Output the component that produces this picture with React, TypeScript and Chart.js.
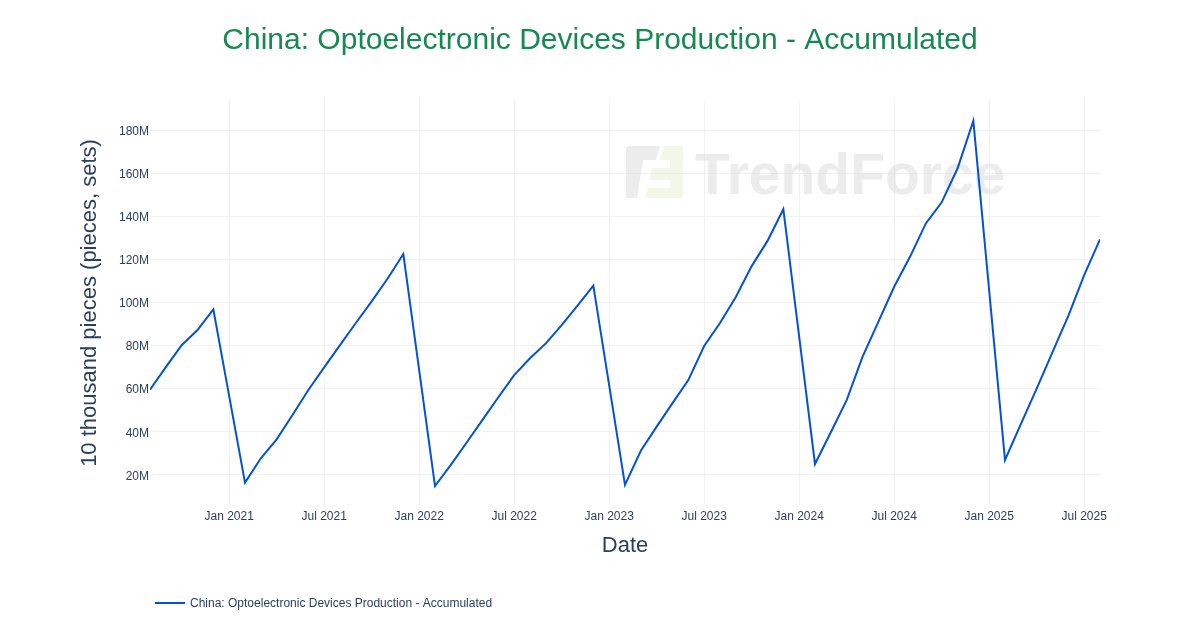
import React, { useEffect, useRef } from "react";
import { Chart, registerables } from "chart.js";

Chart.register(...registerables);

const TITLE = "China: Optoelectronic Devices Production - Accumulated";
const SERIES_NAME = "China: Optoelectronic Devices Production - Accumulated";
const Y_TITLE = "10 thousand pieces (pieces, sets)";
const X_TITLE = "Date";

const months: string[] = [
  "2020-08", "2020-09", "2020-10", "2020-11", "2020-12",
  "2021-02", "2021-03", "2021-04", "2021-05", "2021-06", "2021-07", "2021-08", "2021-09", "2021-10", "2021-11", "2021-12",
  "2022-02", "2022-03", "2022-04", "2022-05", "2022-06", "2022-07", "2022-08", "2022-09", "2022-10", "2022-11", "2022-12",
  "2023-02", "2023-03", "2023-04", "2023-05", "2023-06", "2023-07", "2023-08", "2023-09", "2023-10", "2023-11", "2023-12",
  "2024-02", "2024-03", "2024-04", "2024-05", "2024-06", "2024-07", "2024-08", "2024-09", "2024-10", "2024-11", "2024-12",
  "2025-02", "2025-03", "2025-04", "2025-05", "2025-06", "2025-07", "2025-08",
];

// values in millions
const values: number[] = [
  59.5, 70, 80.2, 87.2, 96.8,
  16.4, 27.7, 36.5, 47.8, 59.4, 69.9, 80.2, 90.5, 100.5, 111, 122.5,
  14.8, 24.6, 35, 45.5, 56, 66.3, 74.1, 81, 89.5, 98.5, 107.8,
  15.3, 31.2, 42.4, 53.3, 64, 79.8, 90.5, 102.6, 116.9, 128.6, 143.3,
  25, 39.8, 54.7, 74.8, 91, 107.3, 121.2, 136.7, 146.5, 162.2, 184.3,
  26.9, 43.5, 60, 77, 93.8, 112.7, 129.3,
];

const xTickLabels: string[] = [
  "Jan 2021", "Jul 2021", "Jan 2022", "Jul 2022", "Jan 2023", "Jul 2023",
  "Jan 2024", "Jul 2024", "Jan 2025", "Jul 2025",
];
const yTickValues: number[] = [20, 40, 60, 80, 100, 120, 140, 160, 180];

const BASE_YEAR = 2021;
const monthIndex = (s: string) => {
  const [y, m] = s.split("-").map(Number);
  return (y - BASE_YEAR) * 12 + (m - 1);
};
const labelIndex = (s: string) => {
  const [mon, yr] = s.split(" ");
  return (Number(yr) - BASE_YEAR) * 12 + (mon === "Jan" ? 0 : 6);
};

const FONT = "'Liberation Sans', Arial, sans-serif";
const TEXT_COLOR = "#2a3f5f";
const LINE_COLOR = "#0452d4";

const overlayPlugin = {
  id: "overlay",
  beforeDatasetsDraw(chart: any) {
    const ctx = chart.ctx as CanvasRenderingContext2D;
    ctx.save();
    // watermark logo
    ctx.globalAlpha = 0.5;
    ctx.fillStyle = "#d9d9d9";
    ctx.beginPath();
    ctx.moveTo(630, 146);
    ctx.lineTo(660, 146);
    ctx.lineTo(656, 160);
    ctx.lineTo(643, 160);
    ctx.lineTo(637, 198);
    ctx.lineTo(628, 198);
    ctx.quadraticCurveTo(625, 198, 626, 194);
    ctx.lineTo(626, 150);
    ctx.quadraticCurveTo(626, 146, 630, 146);
    ctx.fill();
    ctx.fillStyle = "#e6f0d0";
    ctx.beginPath();
    ctx.moveTo(664, 146);
    ctx.lineTo(680, 146);
    ctx.quadraticCurveTo(684, 146, 683, 150);
    ctx.lineTo(683, 194);
    ctx.quadraticCurveTo(683, 198, 679, 198);
    ctx.lineTo(645, 198);
    ctx.lineTo(648, 188);
    ctx.lineTo(670, 188);
    ctx.lineTo(670, 180);
    ctx.lineTo(650, 180);
    ctx.lineTo(652, 168);
    ctx.lineTo(670, 168);
    ctx.lineTo(670, 160);
    ctx.lineTo(660, 160);
    ctx.closePath();
    ctx.fill();
    ctx.fillStyle = "#d9d9d9";
    ctx.font = `bold 57px ${FONT}`;
    ctx.textAlign = "left";
    ctx.textBaseline = "alphabetic";
    ctx.fillText("TrendForce", 695, 194);
    ctx.restore();
  },
  afterDraw(chart: any) {
    const ctx = chart.ctx as CanvasRenderingContext2D;
    ctx.save();
    // title
    ctx.fillStyle = "#158a50";
    ctx.font = `30px ${FONT}`;
    ctx.textAlign = "center";
    ctx.textBaseline = "middle";
    ctx.fillText(TITLE, 600, 41);
    // x title
    ctx.fillStyle = TEXT_COLOR;
    ctx.font = `22px ${FONT}`;
    ctx.fillText(X_TITLE, 625, 546);
    // y title
    ctx.save();
    ctx.translate(90, 303);
    ctx.rotate(-Math.PI / 2);
    ctx.fillText(Y_TITLE, 0, 0);
    ctx.restore();
    // legend
    ctx.strokeStyle = LINE_COLOR;
    ctx.lineWidth = 2;
    ctx.beginPath();
    ctx.moveTo(155, 603);
    ctx.lineTo(185, 603);
    ctx.stroke();
    ctx.font = `12px ${FONT}`;
    ctx.textAlign = "left";
    ctx.fillStyle = TEXT_COLOR;
    ctx.fillText(SERIES_NAME, 190, 604);
    ctx.restore();
  },
};

export default function App() {
  const ref = useRef<HTMLCanvasElement | null>(null);
  useEffect(() => {
    document.body.style.margin = "0";
    const canvas = ref.current;
    if (!canvas) return;
    const data = months.map((m, i) => ({ x: monthIndex(m), y: values[i] }));
    const chart = new Chart(canvas, {
      type: "line",
      data: {
        datasets: [
          {
            label: SERIES_NAME,
            data,
            borderColor: LINE_COLOR,
            backgroundColor: LINE_COLOR,
            borderWidth: 2,
            pointRadius: 0,
            tension: 0,
            fill: false,
          },
        ],
      },
      options: {
        animation: false,
        responsive: false,
        maintainAspectRatio: false,
        layout: { padding: { left: 0, right: 100, top: 100, bottom: 0 } },
        plugins: {
          legend: { display: false },
          title: { display: false },
          tooltip: { enabled: false },
        },
        scales: {
          x: {
            type: "linear",
            min: monthIndex(months[0]),
            max: monthIndex(months[months.length - 1]),
            border: { display: false },
            grid: { color: "#f2f2f2", lineWidth: 1, drawTicks: false },
            afterBuildTicks: (scale: any) => {
              scale.ticks = xTickLabels.map((l) => ({ value: labelIndex(l) }));
            },
            afterFit: (scale: any) => {
              scale.height = 125;
            },
            ticks: {
              autoSkip: false,
              maxRotation: 0,
              padding: 4,
              color: TEXT_COLOR,
              font: { family: FONT, size: 12 },
              callback: (v: any) => {
                const idx = xTickLabels.findIndex((l) => labelIndex(l) === v);
                return idx >= 0 ? xTickLabels[idx] : "";
              },
            },
          },
          y: {
            type: "linear",
            min: 6,
            max: 194,
            border: { display: false },
            grid: { color: "#f2f2f2", lineWidth: 1, drawTicks: false },
            afterBuildTicks: (scale: any) => {
              scale.ticks = yTickValues.map((v) => ({ value: v }));
            },
            afterFit: (scale: any) => {
              scale.width = 150;
            },
            ticks: {
              padding: 1,
              labelOffset: 1.5,
              color: TEXT_COLOR,
              font: { family: FONT, size: 12 },
              callback: (v: any) => `${v}M`,
            },
          },
        },
      },
      plugins: [overlayPlugin],
    });
    return () => chart.destroy();
  }, []);
  return (
    <div style={{ width: 1200, height: 630, background: "#fff" }}>
      <canvas ref={ref} width={1200} height={630} style={{ display: "block" }} />
    </div>
  );
}
